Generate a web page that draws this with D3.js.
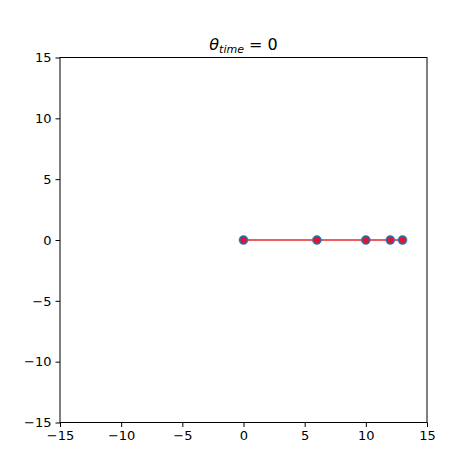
<!DOCTYPE html>
<html><head><meta charset="utf-8">
<script src="https://cdn.jsdelivr.net/npm/d3@7"></script>
<style>body{margin:0;background:#fff}svg{display:block}</style>
</head><body>
<svg id="c" width="474" height="474"></svg>
<script>
const xs = [0, 6, 10, 12, 13];
const ys = [0, 0, 0, 0, 0];
const xTicks = [-15, -10, -5, 0, 5, 10, 15];
const yTicks = [-15, -10, -5, 0, 5, 10, 15];
const titleTheta = "θ";
const titleSub = "time";
const titleRest = " = 0";

const svg = d3.select("#c");
const L = 60, R = 427, T = 57.5, B = 422.5;
const x = d3.scaleLinear().domain([-15, 15]).range([L, R]);
const y = d3.scaleLinear().domain([-15, 15]).range([B, T]);
const fmt = d => d < 0 ? "\u2212" + Math.abs(d) : String(d);

const xa = svg.append("g").attr("transform", `translate(0,${B})`)
  .call(d3.axisBottom(x).tickValues(xTicks).tickFormat(fmt).tickSizeOuter(0).tickSize(4.5).tickPadding(4));
const ya = svg.append("g").attr("transform", `translate(${L},0)`)
  .call(d3.axisLeft(y).tickValues(yTicks).tickFormat(fmt).tickSizeOuter(0).tickSize(4.5).tickPadding(4));
[xa, ya].forEach(a => {
  a.select(".domain").remove();
  a.selectAll("text").attr("font-family", "DejaVu Sans").attr("font-size", 13).attr("fill", "#000");
  a.selectAll("line").attr("stroke", "#000").attr("stroke-width", 1);
});
svg.append("rect").attr("x", L).attr("y", T).attr("width", R - L).attr("height", B - T)
  .attr("fill", "none").attr("stroke", "#000").attr("stroke-width", 1);

const pts = xs.map((v, i) => [x(v), y(ys[i])]);
svg.append("path").attr("d", d3.line()(pts)).attr("fill", "none").attr("stroke", "#e8262b").attr("stroke-width", 1.5);
svg.selectAll("circle.b").data(pts).join("circle").attr("class", "b")
  .attr("cx", d => d[0]).attr("cy", d => d[1]).attr("r", 4.5).attr("fill", "#2a6aa8").attr("stroke", "#1f77b4").attr("stroke-width", 0.5);
svg.selectAll("circle.r").data(pts).join("circle").attr("class", "r")
  .attr("cx", d => d[0]).attr("cy", d => d[1]).attr("r", 3).attr("fill", "#e8132b");

const t = svg.append("text").attr("x", (L + R) / 2).attr("y", 50).attr("text-anchor", "middle")
  .attr("font-family", "DejaVu Sans").attr("font-size", 16).attr("fill", "#000");
t.append("tspan").attr("font-style", "italic").text(titleTheta);
t.append("tspan").attr("font-style", "italic").attr("font-size", 11).attr("dy", 3).text(titleSub);
t.append("tspan").attr("dy", -3).text(titleRest);
</script>
</body></html>
